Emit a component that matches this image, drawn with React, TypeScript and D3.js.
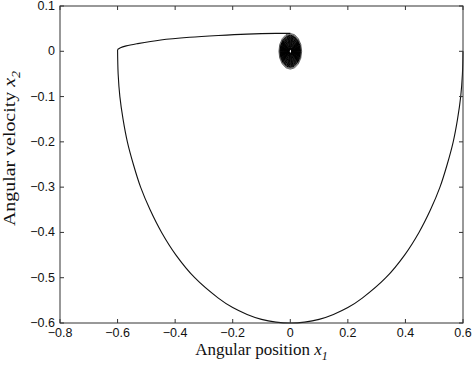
import React from "react";
import * as d3 from "d3";

const xTicks = [-0.8, -0.6, -0.4, -0.2, 0, 0.2, 0.4, 0.6];
const yTicks = [0.1, 0, -0.1, -0.2, -0.3, -0.4, -0.5, -0.6];

// main swing: start at (0.6, 0), down around, up to (-0.6, 0.004)
const swingX1 = [0.6, 0.598, 0.592, 0.581, 0.566, 0.545, 0.52, 0.487, 0.447, 0.397, 0.332, 0.25, 0.2, 0.15, 0.1, 0.05, 0, -0.05, -0.1, -0.15, -0.2, -0.25, -0.332, -0.397, -0.447, -0.487, -0.52, -0.545, -0.566, -0.581, -0.592, -0.598, -0.6];
const swingX2 = [0, -0.05, -0.1, -0.15, -0.2, -0.25, -0.3, -0.35, -0.4, -0.45, -0.5, -0.545, -0.566, -0.581, -0.592, -0.598, -0.6, -0.598, -0.592, -0.581, -0.566, -0.545, -0.5, -0.45, -0.4, -0.35, -0.3, -0.25, -0.2, -0.15, -0.1, -0.05, 0.004];

// switching arc from (-0.6, 0.004) to the origin neighbourhood
const arcX1 = [-0.6, -0.59, -0.57, -0.53, -0.45, -0.35, -0.25, -0.15, -0.05, 0];
const arcX2 = [0.004, 0.008, 0.012, 0.017, 0.025, 0.031, 0.035, 0.038, 0.0395, 0.0395];

// radii of the dense decaying loops around the origin
const loopRadii = [0.0395, 0.0375, 0.0355, 0.034, 0.0325, 0.031, 0.0297, 0.0284, 0.0271, 0.0258, 0.0245, 0.0232, 0.022, 0.0208, 0.0196, 0.0184, 0.0172, 0.016, 0.0149, 0.0138, 0.0127, 0.0116, 0.0106, 0.0096, 0.0087, 0.0078, 0.007, 0.0062, 0.0055, 0.0048, 0.0042];

const W = 474;
const H = 366;
const left = 60;
const right = 463;
const top = 6;
const bottom = 323;

export default function App() {
  const x = d3.scaleLinear().domain([-0.8, 0.6]).range([left, right]);
  const y = d3.scaleLinear().domain([-0.6, 0.1]).range([bottom, top]);

  const mk = (xs: number[], ys: number[]) =>
    d3
      .line<number>()
      .x((i) => x(xs[i]))
      .y((i) => y(ys[i]))
      .curve(d3.curveCatmullRom.alpha(0.5))(xs.map((_, i) => i)) || "";

  const swingPath = mk(swingX1, swingX2);
  const arcPath = mk(arcX1, arcX2);

  const tickLen = 4;
  const tickFont = "'Liberation Sans', Arial, Helvetica, sans-serif";
  const labelFont = "'Liberation Serif', 'Times New Roman', serif";
  const fmt = (t: number) =>
    t === 0 ? "0" : d3.format(".1f")(t).replace("-", "\u2212");

  return (
    <svg
      width={W}
      height={H}
      style={{ position: "absolute", left: 0, top: 0, background: "#fff" }}
    >
      <rect x={0} y={0} width={W} height={H} fill="#fff" />
      {/* trajectory */}
      <path d={swingPath} fill="none" stroke="#111" strokeWidth={1.1} />
      <path d={arcPath} fill="none" stroke="#111" strokeWidth={1.1} />
      {loopRadii.map((r, i) => (
        <ellipse
          key={i}
          cx={x(0)}
          cy={y(0)}
          rx={x(r) - x(0)}
          ry={y(0) - y(r)}
          fill="none"
          stroke="#000"
          strokeWidth={i < 2 ? 0.8 : 1}
          strokeOpacity={i < 2 ? 0.7 : 1}
        />
      ))}

      {/* box */}
      <rect
        x={left}
        y={top}
        width={right - left}
        height={bottom - top}
        fill="none"
        stroke="#333"
        strokeWidth={1}
      />
      {/* x ticks */}
      {xTicks.map((t) => (
        <g key={"x" + t}>
          <line x1={x(t)} x2={x(t)} y1={bottom} y2={bottom - tickLen} stroke="#333" />
          <line x1={x(t)} x2={x(t)} y1={top} y2={top + tickLen} stroke="#333" />
          <text
            x={x(t)}
            y={336.5}
            textAnchor="middle"
            fontFamily={tickFont}
            fontSize={12.5}
            fill="#111"
          >
            {fmt(t)}
          </text>
        </g>
      ))}
      {/* y ticks */}
      {yTicks.map((t) => (
        <g key={"y" + t}>
          <line x1={left} x2={left + tickLen} y1={y(t)} y2={y(t)} stroke="#333" />
          <line x1={right} x2={right - tickLen} y1={y(t)} y2={y(t)} stroke="#333" />
          <text
            x={55}
            y={y(t) + 4}
            textAnchor="end"
            fontFamily={tickFont}
            fontSize={12.5}
            fill="#111"
          >
            {fmt(t)}
          </text>
        </g>
      ))}
      {/* axis labels */}
      <text
        x={(left + right) / 2}
        y={355}
        textAnchor="middle"
        fontFamily={labelFont}
        fontSize={17}
        fill="#111"
      >
        Angular position{" "}
        <tspan fontStyle="italic">x</tspan>
        <tspan fontStyle="italic" fontSize={12} dy={5}>
          1
        </tspan>
      </text>
      <text
        transform={`translate(15, 148.5) rotate(-90) scale(1.17, 1)`}
        textAnchor="middle"
        fontFamily={labelFont}
        fontSize={17}
        fill="#111"
      >
        Angular velocity{" "}
        <tspan fontStyle="italic">x</tspan>
        <tspan fontStyle="italic" fontSize={12} dy={5}>
          2
        </tspan>
      </text>
    </svg>
  );
}
